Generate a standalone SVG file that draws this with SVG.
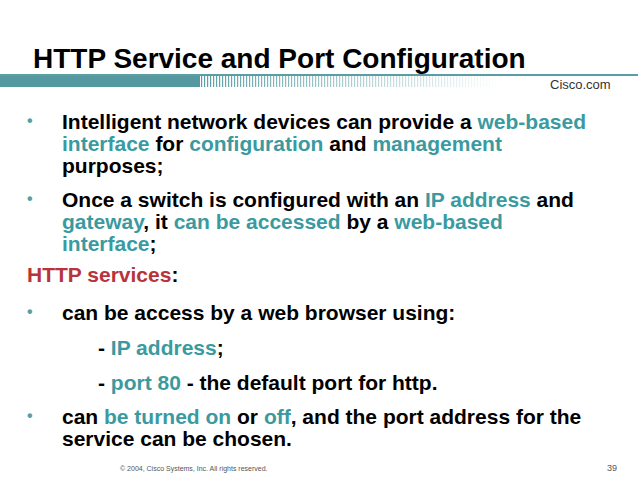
<svg xmlns="http://www.w3.org/2000/svg" width="638" height="478" viewBox="0 0 638 478">
<defs>
<style>
text{font-family:"Liberation Sans",Arial,sans-serif}
.b{font-size:21px;font-weight:bold;fill:#000}
.t{fill:#3a9aa0}
.r{fill:#b8333a}
.dot{font-size:16px;fill:#5a9ea5}
</style>
<pattern id="stripes" width="3" height="12" patternUnits="userSpaceOnUse"><rect width="1.2" height="12" fill="#5a9ea5"/></pattern>
<linearGradient id="fade" x1="0" x2="1"><stop offset="0" stop-color="#fff" stop-opacity="0"/><stop offset="1" stop-color="#fff" stop-opacity="1"/></linearGradient>
</defs>
<rect width="638" height="478" fill="#fff"/>
<text x="33" y="68" style="font-size:28px;font-weight:bold">HTTP Service and Port Configuration</text>
<rect x="0" y="74" width="200" height="13" fill="#55989f"/>
<rect x="200" y="76" width="300" height="11" fill="url(#stripes)"/>
<rect x="200" y="76" width="300" height="11" fill="url(#fade)"/>
<rect x="0" y="74" width="638" height="2" fill="#5a9ea5"/>
<text x="550" y="89" style="font-size:13px;fill:#333">Cisco.com</text>
<g class="b">
<text x="27" y="126" class="dot">•</text>
<text x="62" y="129">Intelligent network devices can provide a <tspan class="t">web-based</tspan></text>
<text x="62" y="151"><tspan class="t">interface</tspan> for <tspan class="t">configuration</tspan> and <tspan class="t">management</tspan></text>
<text x="62" y="173">purposes;</text>
<text x="27" y="204" class="dot">•</text>
<text x="62" y="207">Once a switch is configured with an <tspan class="t">IP address</tspan> and</text>
<text x="62" y="229"><tspan class="t">gateway</tspan>, it <tspan class="t">can be accessed</tspan> by a <tspan class="t">web-based</tspan></text>
<text x="62" y="251"><tspan class="t">interface</tspan>;</text>
<text x="27" y="282"><tspan class="r">HTTP services</tspan>:</text>
<text x="27" y="317" class="dot">•</text>
<text x="62" y="320">can be access by a web browser using:</text>
<text x="98" y="355">- <tspan class="t">IP address</tspan>;</text>
<text x="98" y="390">- <tspan class="t">port 80</tspan> - the default port for http.</text>
<text x="27" y="421" class="dot">•</text>
<text x="62" y="424">can <tspan class="t">be turned on</tspan> or <tspan class="t">off</tspan>, and the port address for the</text>
<text x="62" y="446">service can be chosen.</text>
</g>
<text x="120" y="471" style="font-size:7px;fill:#555">© 2004, Cisco Systems, Inc. All rights reserved.</text>
<text x="607" y="471" style="font-size:9px;fill:#555">39</text>
</svg>
